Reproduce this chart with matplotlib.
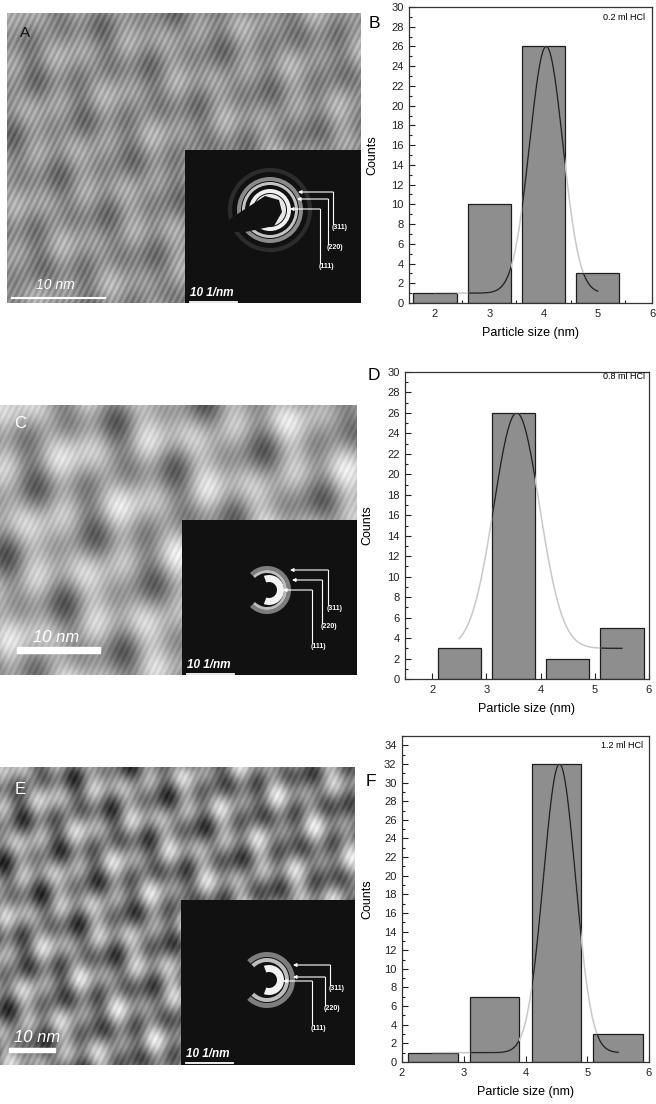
import matplotlib.pyplot as plt
import numpy as np
from matplotlib.patches import Wedge, Circle, Polygon, Rectangle
from matplotlib.ticker import MultipleLocator

plt.rcParams["font.family"] = ["Liberation Sans", "DejaVu Sans"]

W, H = 656, 1104

# particle size histograms (bin centres in nm, counts)
sizes_b = [2, 3, 4, 5]
counts_b = [1, 10, 26, 3]
sizes_d = [2.5, 3.5, 4.5, 5.5]
counts_d = [3, 26, 2, 5]
sizes_f = [2.5, 3.5, 4.5, 5.5]
counts_f = [1, 7, 32, 3]

# gaussian fits: baseline, amplitude, centre, sigma, x from, x to
fit_b = (1.0, 25.0, 4.05, 0.306, 2.0, 5.0)
fit_d = (3.0, 23.0, 3.56, 0.42, 2.5, 5.5)
fit_f = (1.0, 31.0, 4.55, 0.26, 2.5, 5.5)

hcl_labels = ["0.2 ml HCl", "0.8 ml HCl", "1.2 ml HCl"]
planes = ["(311)", "(220)", "(111)"]


def px_axes(fig, x0, y0, x1, y1):
    return fig.add_axes([x0 / W, 1 - y1 / H, (x1 - x0) / W, (y1 - y0) / H])


def fig_text(fig, x, y, s, **kw):
    fig.text(x / W, 1 - y / H, s, **kw)


fig = plt.figure(figsize=(W / 100, H / 100), dpi=100)


# ---------- histograms ----------
def hist_panel(box, sizes, counts, fit, xlim, ylim, ymax_tick, hcl, hcl_xy, ylab_x):
    ax = px_axes(fig, *box)
    bars = ax.bar(sizes, counts, width=0.8, color="#8e8e8e", edgecolor="#1e1e1e",
                  linewidth=0.9, zorder=2)
    y0, a, xc, s, xa, xb = fit
    xs = np.linspace(xa, xb, 300)
    ys = y0 + a * np.exp(-(xs - xc) ** 2 / (2 * s ** 2))
    ax.plot(xs, ys, color="#c8c8c8", lw=1.1, zorder=3)
    for b in bars:
        ln, = ax.plot(xs, ys, color="#262626", lw=1.1, zorder=4)
        ln.set_clip_path(b)
    ax.set_xlim(*xlim)
    ax.set_ylim(*ylim)
    ax.set_xticks([2, 3, 4, 5, 6])
    ax.set_yticks(np.arange(0, ymax_tick + 1, 2))
    ax.xaxis.set_minor_locator(MultipleLocator(0.5))
    ax.yaxis.set_minor_locator(MultipleLocator(1))
    ax.tick_params(which="both", direction="in", top=False, right=False,
                   labelsize=8, colors="#222222", width=0.8)
    ax.tick_params(which="major", length=4, pad=4)
    ax.tick_params(which="minor", length=2)
    for sp in ax.spines.values():
        sp.set_color("#333333")
        sp.set_linewidth(0.9)
    ax.set_xlabel("Particle size (nm)", fontsize=9, labelpad=6)
    ax.set_ylabel("Counts", fontsize=9)
    ax.yaxis.set_label_coords(ylab_x, 0.5)
    ax.text(hcl_xy[0], hcl_xy[1], hcl, transform=ax.transAxes, ha="right",
            va="center", fontsize=6.5)
    return ax


hist_panel((409, 7, 652, 303), sizes_b, counts_b, fit_b, (1.52, 6), (0, 30), 30,
           hcl_labels[0], (0.97, 0.966), -0.125)
hist_panel((405, 372, 649, 679), sizes_d, counts_d, fit_d, (1.5, 6), (0, 30), 30,
           hcl_labels[1], (0.985, 0.985), -0.128)
hist_panel((402, 736, 649, 1062), sizes_f, counts_f, fit_f, (2, 6), (0, 35), 34,
           hcl_labels[2], (0.975, 0.97), -0.115)

fig_text(fig, 374, 23, "B", fontsize=12.5, ha="center", va="center")
fig_text(fig, 374, 375, "D", fontsize=12.5, ha="center", va="center")
fig_text(fig, 371, 782, "F", fontsize=12.5, ha="center", va="center")


# ---------- TEM micrographs (grey placeholders) ----------
def tem_panel(box, base, blob, lattice, scale):
    x0, y0, x1, y1 = box
    ax = px_axes(fig, *box)
    w, h = x1 - x0, y1 - y0
    xx, yy = np.meshgrid(np.arange(w), np.arange(h))
    field = np.full((h, w), base, dtype=float)
    for ang, per, ph in [(0.3, 1.0, 0.2), (1.4, 0.83, 1.1), (2.3, 1.21, 2.5), (2.9, 0.67, 0.7)]:
        proj = xx * np.cos(ang) + yy * np.sin(ang)
        field += blob / 2 * np.sin(proj / (scale * per) + ph)
    field += lattice * np.sin((0.9 * xx + 0.45 * yy) / 0.9)
    ax.imshow(np.clip(field, 0, 1), cmap="gray", vmin=0, vmax=1, aspect="auto",
              extent=(0, w, h, 0), interpolation="bilinear")
    ax.set_axis_off()
    return ax


def sad_inset(box, center, rings, crescent, tips, vxs, label_ys, scale_y):
    x0, y0, x1, y1 = box
    ax = px_axes(fig, *box)
    w, h = x1 - x0, y1 - y0
    ax.set_xlim(0, w)
    ax.set_ylim(h, 0)
    ax.add_patch(Rectangle((0, 0), w, h, color="#111111"))
    cx, cy = center[0] - x0, center[1] - y0
    if crescent:
        for r, wd, col in rings:
            ax.add_patch(Wedge((cx, cy), r, -135, 135, width=wd, color=col, lw=0))
        ax.add_patch(Wedge((cx + 2, cy), 15, -110, 110, width=7, color="#f2f2f2", lw=0))
    else:
        ax.add_patch(Circle((cx, cy), 40, fill=False, ec="#2c2c2c", lw=3))
        for r, wd, col in rings:
            ax.add_patch(Circle((cx, cy), r - wd / 2, fill=False, ec=col, lw=wd * 0.72))
        ax.add_patch(Circle((cx, cy), 16, color="#e8e8e8", lw=0))
        stop = [(-60, 22), (-5, -14), (9, -10), (12, 2), (4, 16), (-25, 22)]
        ax.add_patch(Polygon([(cx + a, cy + b) for a, b in stop], color="#111111", lw=0))
    for (tx, ty), vx, ly, lab in zip(tips, vxs, label_ys, planes):
        tx, ty, vx, ly = tx - x0, ty - y0, vx - x0, ly - y0
        ax.plot([vx, vx], [ty, ly - 4], color="white", lw=0.8)
        ax.annotate("", xy=(tx, ty), xytext=(vx, ty),
                    arrowprops=dict(arrowstyle="-|>", color="white", lw=0.8,
                                    mutation_scale=5, shrinkA=0, shrinkB=0))
        ax.text(vx - 1, ly, lab, color="white", fontsize=5, fontweight="bold",
                ha="left", va="center")
    ax.text(5, scale_y - y0, "10 1/nm", color="white", fontsize=8.5,
            fontweight="bold", fontstyle="italic", ha="left", va="center")
    ax.plot([5, 52], [scale_y - y0 + 9, scale_y - y0 + 9], color="white", lw=1.3)
    ax.set_axis_off()


# A
tem_panel((7, 13, 361, 303), 0.56, 0.09, 0.07, 9)
fig_text(fig, 25, 33, "A", fontsize=11, color="#111111", ha="center", va="center")
fig.add_artist(plt.Line2D([12 / W, 105 / W], [1 - 298 / H] * 2, color="white", lw=1.5))
fig_text(fig, 36, 285, "10 nm", fontsize=10, color="white", fontstyle="italic",
         va="center")
sad_inset((185, 150, 361, 303), (270, 210),
          [(33, 4, "#8a8a8a"), (28, 3, "#c4c4c4"), (21, 4, "#f0f0f0")], False,
          [(298, 192), (297, 199), (290, 209)], [333, 328, 320], [228, 248, 267], 293)

# C
tem_panel((0, 405, 357, 675), 0.64, 0.17, 0.04, 11)
fig_text(fig, 20, 423, "C", fontsize=12, color="white", ha="center", va="center")
fig.add_artist(Rectangle((17 / W, 1 - 653 / H), 83 / W, 6 / H, color="white",
                         transform=fig.transFigure))
fig_text(fig, 33, 637, "10 nm", fontsize=12, color="white", fontstyle="italic",
         va="center")
sad_inset((182, 520, 357, 675), (267, 590),
          [(24, 4, "#7d7d7d"), (20, 3, "#bdbdbd")], True,
          [(290, 570), (292, 580), (283, 590)], [328, 322, 312], [608, 627, 646], 665)

# E
tem_panel((0, 767, 355, 1065), 0.52, 0.2, 0.05, 7)
fig_text(fig, 20, 790, "E", fontsize=12, color="white", ha="center", va="center")
fig.add_artist(Rectangle((9 / W, 1 - 1052 / H), 46 / W, 4 / H, color="white",
                         transform=fig.transFigure))
fig_text(fig, 14, 1037, "10 nm", fontsize=12, color="white", fontstyle="italic",
         va="center")
sad_inset((181, 900, 355, 1065), (267, 980),
          [(28, 5, "#7d7d7d"), (22, 4, "#bdbdbd")], True,
          [(293, 965), (293, 977), (283, 981)], [330, 325, 312], [989, 1009, 1028], 1054)

fig.savefig("out.png", dpi=100)
